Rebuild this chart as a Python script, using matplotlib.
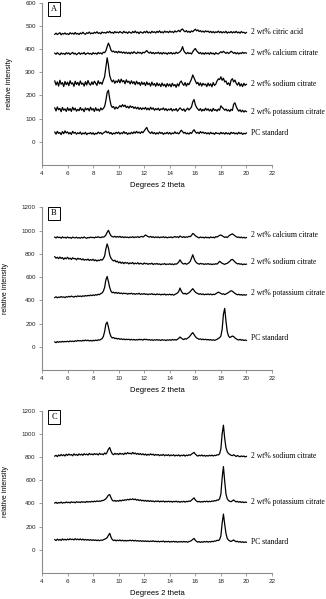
import numpy as np
import matplotlib
matplotlib.use("Agg")
import matplotlib.pyplot as plt

# 2-theta grid shared by every scan (5.0 .. 20.0, step 0.1)
two_theta = np.round(np.arange(5.0, 20.05, 0.1), 1)

# ---------------- panel A ----------------
a_citric = [
    463, 468, 462, 466, 470, 461, 467, 464, 469, 463,
    466, 462, 470, 465, 468, 463, 471, 464, 467, 462,
    469, 465, 472, 466, 463, 470, 467, 473, 465, 469,
    466, 472, 468, 474, 467, 470, 465, 473, 469, 471,
    468, 474, 470, 476, 469, 472, 467, 475, 470, 473,
    469, 475, 471, 468, 476, 470, 473, 467, 474, 471,
    468, 475, 470, 477, 469, 473, 466, 474, 471, 468,
    475, 470, 477, 469, 473, 468, 476, 471, 474, 469,
    476, 471, 478, 470, 474, 469, 477, 472, 475, 470,
    477, 472, 475, 470, 478, 473, 476, 480, 474, 483,
    486, 478, 474, 479, 472, 476, 471, 478, 474, 480,
    485, 478, 482, 475, 479, 473, 477, 472, 478, 474,
    477, 471, 476, 470, 475, 469, 474, 471, 477, 470,
    475, 469, 474, 470, 476, 468, 473, 470, 475, 469,
    474, 470, 476, 469, 473, 468, 475, 470, 472, 467,
    471]
a_calcium = [
    382, 377, 384, 379, 375, 383, 378, 381, 376, 384,
    379, 383, 376, 381, 385, 378, 382, 375, 380, 384,
    377, 382, 379, 385, 376, 380, 383, 378, 381, 376,
    384, 379, 382, 377, 385, 380, 383, 378, 386, 384,
    392, 410, 425, 412, 395, 388, 391, 385, 389, 383,
    390, 384, 388, 382, 387, 381, 386, 380, 385, 379,
    386, 381, 388, 383, 380, 387, 382, 385, 379, 386,
    383, 388, 393, 386, 382, 387, 380, 385, 379, 384,
    381, 386, 379, 384, 378, 385, 380, 383, 377, 384,
    380, 385, 378, 383, 379, 386, 381, 384, 388, 395,
    410, 392, 384, 379, 385, 380, 383, 378, 388, 396,
    402, 392, 386, 380, 385, 378, 383, 377, 384, 379,
    383, 377, 385, 379, 382, 376, 384, 380, 378, 383,
    388, 384, 390, 385, 381, 386, 380, 384, 390, 386,
    381, 385, 379, 384, 378, 383, 380, 386, 381, 384,
    382]
a_sodium = [
    262, 245, 258, 240, 265, 248, 255, 238, 260, 246,
    257, 242, 263, 249, 254, 239, 261, 247, 256, 243,
    262, 248, 253, 240, 259, 245, 264, 250, 244, 258,
    247, 261, 252, 243, 263, 250, 256, 248, 265, 280,
    320, 362, 330, 285, 268, 258, 266, 252, 262, 256,
    268, 254, 270, 258, 264, 250, 267, 256, 261, 249,
    263, 251, 259, 246, 261, 249, 256, 243, 258, 247,
    255, 242, 258, 246, 253, 240, 257, 244, 251, 239,
    254, 242, 250, 238, 253, 241, 248, 236, 251, 240,
    249, 237, 252, 241, 247, 235, 250, 240, 256, 262,
    250, 243, 255, 240, 252, 246, 258, 270, 288, 275,
    262, 250, 256, 243, 254, 240, 252, 245, 249, 238,
    253, 241, 250, 237, 255, 243, 248, 262, 271, 268,
    280, 265, 274, 258, 262, 247, 254, 242, 265, 272,
    258, 266, 252, 244, 256, 240, 250, 238, 252, 243,
    248]
a_potassium = [
    146, 133, 150, 138, 144, 130, 148, 136, 142, 131,
    147, 135, 143, 131, 149, 137, 145, 132, 140, 134,
    148, 136, 142, 130, 146, 138, 144, 133, 149, 137,
    143, 131, 147, 135, 141, 132, 146, 138, 144, 152,
    178, 212, 222, 185, 158, 148, 152, 141, 150, 143,
    149, 156, 150, 160, 152, 158, 147, 153, 145, 155,
    148, 152, 144, 150, 142, 149, 140, 147, 139, 146,
    141, 148, 138, 145, 137, 149, 140, 146, 136, 143,
    138, 145, 135, 142, 139, 146, 136, 143, 134, 141,
    137, 144, 133, 140, 136, 143, 132, 139, 146, 141,
    135, 142, 131, 139, 145, 137, 143, 150, 172, 182,
    160, 148, 141, 135, 143, 132, 140, 134, 145, 136,
    142, 133, 140, 131, 144, 135, 139, 132, 141, 136,
    155, 148, 143, 136, 141, 133, 138, 131, 140, 135,
    162, 168, 152, 140, 132, 138, 129, 136, 128, 134,
    130]
a_pc = [
    42, 33, 45, 36, 40, 31, 44, 35, 47, 38,
    43, 34, 40, 32, 45, 37, 41, 33, 39, 35,
    42, 32, 38, 34, 41, 31, 37, 35, 40, 33,
    39, 31, 37, 34, 42, 36, 40, 33, 38, 41,
    46, 39, 43, 35, 40, 32, 38, 34, 41, 36,
    42, 33, 39, 35, 44, 36, 40, 32, 38, 34,
    41, 35, 43, 37, 45, 38, 42, 36, 44, 39,
    47, 55, 62, 48, 41, 36, 43, 35, 40, 33,
    39, 34, 42, 36, 40, 32, 38, 35, 41, 34,
    40, 33, 38, 35, 43, 36, 39, 34, 42, 50,
    44, 37, 41, 34, 38, 33, 40, 36, 45, 52,
    43, 37, 41, 35, 44, 38, 42, 36, 40, 34,
    39, 33, 41, 35, 38, 32, 40, 36, 37, 33,
    41, 35, 39, 33, 40, 34, 38, 32, 41, 36,
    40, 34, 38, 33, 41, 35, 39, 32, 37, 34,
    38]

# ---------------- panel B ----------------
b_calcium = [
    944, 936, 947, 939, 943, 934, 946, 938, 942, 935,
    945, 937, 941, 933, 944, 939, 936, 943, 935, 940,
    934, 942, 936, 945, 938, 933, 941, 937, 944, 939,
    942, 936, 945, 940, 947, 941, 939, 946, 943, 948,
    962, 985, 1002, 975, 955, 948, 944, 951, 942, 949,
    943, 950, 941, 947, 939, 946, 940, 944, 938, 945,
    941, 947, 939, 945, 942, 948, 940, 946, 950, 944,
    952, 962, 955, 948, 943, 950, 941, 947, 939, 945,
    940, 946, 938, 944, 941, 947, 939, 945, 937, 943,
    940, 946, 938, 944, 949, 942, 947, 940, 953, 946,
    941, 948, 940, 946, 943, 950, 947, 958, 975, 968,
    955, 948, 942, 937, 945, 939, 943, 936, 944, 938,
    942, 936, 945, 939, 943, 937, 948, 944, 952, 958,
    962, 955, 947, 941, 946, 940, 952, 960, 966, 972,
    963, 955, 947, 941, 945, 938, 944, 937, 942, 936,
    940]
b_sodium = [
    775, 762, 770, 758, 772, 760, 768, 752, 765, 757,
    770, 755, 763, 751, 766, 757, 760, 748, 762, 754,
    759, 748, 756, 745, 752, 746, 755, 742, 750, 744,
    753, 740, 748, 737, 746, 741, 751, 745, 758, 780,
    842, 885, 850, 790, 762, 748, 738, 745, 730, 737,
    722, 731, 718, 728, 715, 726, 719, 724, 713, 722,
    716, 725, 712, 720, 714, 723, 711, 719, 715, 710,
    721, 713, 718, 709, 716, 712, 719, 708, 715, 711,
    717, 709, 714, 706, 713, 710, 716, 707, 712, 709,
    715, 708, 713, 706, 714, 710, 718, 728, 748, 730,
    716, 712, 718, 710, 715, 722, 735, 762, 792, 760,
    735, 722, 716, 710, 718, 712, 715, 708, 714, 710,
    716, 709, 713, 707, 712, 709, 715, 711, 722, 735,
    726, 718, 713, 709, 715, 718, 726, 735, 748, 752,
    742, 730, 720, 713, 716, 710, 714, 706, 712, 708,
    711]
b_potassium = [
    424, 430, 421, 428, 425, 432, 426, 429, 423, 431,
    427, 434, 429, 436, 431, 427, 435, 430, 438, 433,
    437, 431, 439, 434, 441, 436, 443, 438, 445, 440,
    446, 441, 449, 444, 452, 448, 458, 462, 478, 510,
    575, 605, 560, 510, 478, 465, 470, 461, 468, 459,
    466, 458, 463, 455, 462, 457, 460, 452, 459, 455,
    461, 453, 458, 451, 457, 454, 460, 450, 456, 452,
    458, 450, 455, 448, 454, 451, 457, 449, 453, 447,
    455, 449, 453, 446, 452, 448, 454, 445, 451, 447,
    453, 446, 451, 444, 450, 455, 462, 475, 505, 480,
    462, 455, 460, 452, 458, 465, 475, 488, 500, 485,
    470, 462, 458, 451, 457, 449, 455, 447, 453, 449,
    455, 448, 454, 447, 452, 449, 456, 462, 470, 465,
    458, 452, 456, 449, 454, 460, 468, 475, 482, 478,
    468, 459, 453, 447, 452, 445, 450, 443, 449, 444,
    447]
b_pc = [
    42, 35, 45, 38, 44, 40, 47, 41, 46, 43,
    48, 42, 50, 45, 49, 44, 52, 47, 55, 50,
    53, 48, 56, 51, 58, 52, 57, 50, 55, 49,
    56, 51, 58, 53, 60, 57, 64, 70, 88, 130,
    195, 212, 170, 118, 88, 76, 80, 70, 74, 66,
    72, 64, 69, 62, 67, 60, 66, 61, 65, 58,
    64, 59, 63, 57, 62, 58, 65, 60, 63, 57,
    66, 61, 64, 58, 62, 56, 61, 55, 60, 57,
    62, 56, 60, 54, 61, 57, 59, 53, 60, 56,
    61, 55, 63, 58, 62, 57, 65, 72, 84, 75,
    66, 62, 70, 66, 74, 82, 95, 110, 122, 105,
    88, 76, 70, 64, 68, 61, 66, 60, 65, 59,
    63, 57, 62, 56, 60, 55, 59, 64, 72, 78,
    92, 150, 280, 330, 220, 130, 92, 80, 85, 92,
    88, 76, 68, 62, 58, 64, 56, 61, 54, 58,
    55]

# ---------------- panel C ----------------
c_sodium = [
    808, 815, 804, 818, 810, 822, 812, 820, 809, 824,
    814, 826, 817, 822, 811, 828, 816, 823, 813, 827,
    818, 825, 815, 829, 820, 826, 817, 831, 821, 827,
    819, 830, 822, 828, 818, 832, 823, 827, 820, 835,
    826, 842, 868, 882, 850, 828, 820, 832, 824, 830,
    821, 833, 825, 830, 822, 835, 826, 838, 829, 834,
    826, 840, 828, 835, 824, 832, 822, 830, 820, 828,
    818, 826, 815, 824, 817, 828, 819, 825, 814, 823,
    816, 822, 812, 820, 814, 823, 811, 819, 813, 821,
    810, 818, 812, 820, 809, 817, 811, 819, 808, 816,
    811, 819, 808, 817, 812, 820, 815, 825, 832, 840,
    826, 815, 808, 816, 810, 818, 809, 815, 807, 814,
    808, 816, 810, 817, 809, 815, 812, 820, 818, 828,
    870, 1000, 1075, 960, 880, 845, 830, 822, 815, 812,
    820, 812, 805, 813, 807, 802, 810, 804, 809, 801,
    806]
c_potassium = [
    403, 410, 400, 408, 404, 412, 402, 409, 405, 413,
    406, 411, 404, 414, 408, 412, 405, 415, 409, 413,
    407, 416, 410, 414, 408, 418, 411, 416, 412, 419,
    413, 420, 415, 422, 417, 421, 418, 426, 425, 432,
    440, 455, 472, 476, 450, 428, 420, 426, 418, 425,
    419, 428, 421, 430, 425, 432, 428, 436, 430, 438,
    433, 440, 432, 438, 428, 434, 425, 431, 422, 428,
    420, 427, 418, 425, 417, 424, 416, 422, 414, 421,
    416, 422, 413, 420, 415, 421, 412, 419, 414, 420,
    413, 419, 411, 418, 414, 420, 412, 418, 410, 417,
    413, 419, 411, 418, 415, 421, 418, 428, 438, 448,
    430, 420, 413, 418, 411, 417, 412, 419, 414, 420,
    413, 419, 415, 421, 418, 425, 422, 430, 428, 440,
    480, 620, 718, 590, 480, 440, 425, 418, 415, 422,
    430, 420, 413, 418, 410, 416, 408, 414, 407, 412,
    409]
c_pc = [
    88, 80, 92, 83, 90, 81, 94, 85, 91, 84,
    93, 86, 95, 88, 92, 85, 96, 87, 93, 86,
    94, 85, 92, 84, 90, 83, 89, 82, 88, 81,
    87, 80, 86, 79, 85, 78, 84, 82, 86, 92,
    96, 105, 125, 142, 110, 88, 80, 85, 77, 84,
    78, 85, 77, 83, 76, 82, 75, 81, 78, 84,
    77, 83, 76, 82, 75, 80, 74, 79, 73, 78,
    72, 78, 71, 77, 70, 76, 72, 78, 71, 75,
    69, 75, 68, 74, 70, 76, 67, 73, 69, 74,
    66, 72, 68, 74, 67, 73, 65, 71, 68, 72,
    66, 73, 67, 72, 65, 71, 74, 80, 90, 98,
    82, 72, 66, 71, 64, 70, 65, 72, 67, 73,
    66, 72, 67, 74, 70, 76, 75, 82, 80, 88,
    120, 230, 308, 220, 140, 98, 84, 76, 72, 78,
    85, 76, 70, 74, 66, 71, 64, 70, 63, 68,
    65]

panel_a_names = ["2 wt% citric acid", "2 wt% calcium citrate", "2 wt% sodium citrate",
                 "2 wt% potassium citrate", "PC standard"]
panel_b_names = ["2 wt% calcium citrate", "2 wt% sodium citrate",
                 "2 wt% potassium citrate", "PC standard"]
panel_c_names = ["2 wt% sodium citrate", "2 wt% potassium citrate", "PC standard"]

panels = [
    ("A", [a_citric, a_calcium, a_sodium, a_potassium, a_pc], panel_a_names, (-100, 600), np.arange(0, 601, 100)),
    ("B", [b_calcium, b_sodium, b_potassium, b_pc], panel_b_names, (-200, 1200), np.arange(0, 1201, 200)),
    ("C", [c_sodium, c_potassium, c_pc], panel_c_names, (-200, 1200), np.arange(0, 1201, 200)),
]

fig = plt.figure(figsize=(3.26, 5.99), dpi=100)
axes_rects = [
    [0.1288, 0.7245, 0.7055, 0.2713],
    [0.1288, 0.3823, 0.7055, 0.2716],
    [0.1288, 0.0434, 0.7055, 0.2710],
]
label_offsets = {"A": 0, "B": 18, "C": 0}
spine_grey = "#8c8c8c"

for rect, (tag, series, names, ylim, yticks) in zip(axes_rects, panels):
    ax = fig.add_axes(rect)
    for vals, name in zip(series, names):
        ax.plot(two_theta, vals, color="black", linewidth=0.9)
        ax.text(20.35, vals[-1] + label_offsets[tag], name, fontsize=5.5,
                family="Liberation Serif", va="center", ha="left", clip_on=False)

    ax.set_xlim(4, 22)
    ax.set_ylim(*ylim)
    ax.set_xticks(np.arange(4, 23, 2))
    ax.set_yticks(yticks)
    for side in ["top", "right"]:
        ax.spines[side].set_visible(False)
    for side in ["left", "bottom"]:
        ax.spines[side].set_color(spine_grey)
        ax.spines[side].set_linewidth(0.8)
    ax.tick_params(direction="out", length=2, width=0.6, color=spine_grey,
                   labelsize=4.5, labelcolor="#222222", pad=2.5)
    for lab in ax.get_xticklabels() + ax.get_yticklabels():
        lab.set_family("Liberation Sans")

    ax.set_xlabel("Degrees 2 theta", fontsize=5.5, family="Liberation Sans", labelpad=4)
    ax.set_ylabel("relative intensity", fontsize=5, family="Liberation Sans", labelpad=9)

    ax.text(0.052, 0.962, tag, transform=ax.transAxes, fontsize=6,
            family="Liberation Serif", ha="center", va="center",
            bbox=dict(boxstyle="square,pad=0.35", fc="white", ec="black", lw=0.7))

fig.savefig("out.png", dpi=100)
